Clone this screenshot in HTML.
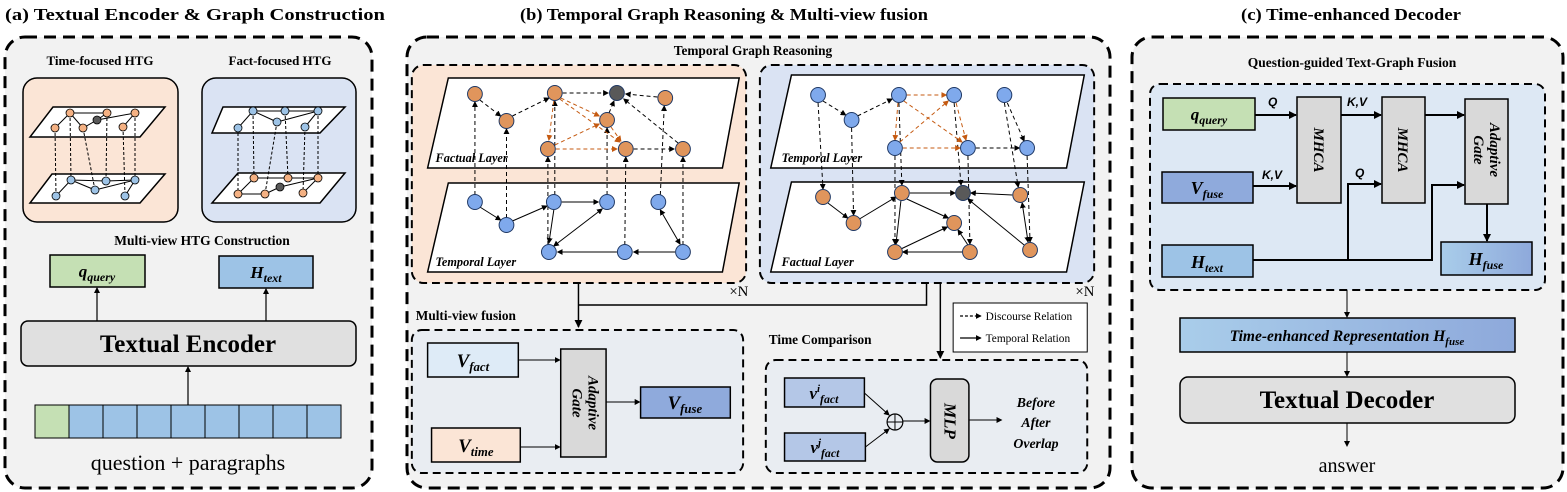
<!DOCTYPE html>
<html><head><meta charset="utf-8"><style>
html,body{margin:0;padding:0;background:#fff;}
svg{display:block;font-family:"Liberation Serif",serif;}
.b{font-weight:bold}
.bi{font-weight:bold;font-style:italic}
</style></head><body>
<svg width="1567" height="492" viewBox="0 0 1567 492" xmlns="http://www.w3.org/2000/svg">
<defs>
<marker id="ah" markerWidth="8" markerHeight="8" refX="7" refY="4" orient="auto" markerUnits="userSpaceOnUse"><path d="M0,0 L8,4 L0,8 z" fill="#000"/></marker>
<marker id="as" markerWidth="6" markerHeight="6" refX="5" refY="3" orient="auto" markerUnits="userSpaceOnUse"><path d="M0,0 L6,3 L0,6 z" fill="#000"/></marker>
<marker id="ao" markerWidth="6" markerHeight="6" refX="5" refY="3" orient="auto" markerUnits="userSpaceOnUse"><path d="M0,0 L6,3 L0,6 z" fill="#c55a11"/></marker>
<marker id="asb" markerWidth="6" markerHeight="6" refX="1" refY="3" orient="auto" markerUnits="userSpaceOnUse"><path d="M6,0 L0,3 L6,6 z" fill="#000"/></marker>
<linearGradient id="gh" x1="0" x2="1"><stop offset="0" stop-color="#a9cdea"/><stop offset="1" stop-color="#8ea9db"/></linearGradient>
</defs>

<!-- Titles -->
<text x="5" y="20" class="b" font-size="17" textLength="380" lengthAdjust="spacingAndGlyphs">(a) Textual Encoder &amp; Graph Construction</text>
<text x="520" y="20" class="b" font-size="17" textLength="408" lengthAdjust="spacingAndGlyphs">(b) Temporal Graph Reasoning &amp;  Multi-view fusion</text>
<text x="1241" y="20" class="b" font-size="17" textLength="220" lengthAdjust="spacingAndGlyphs">(c) Time-enhanced Decoder</text>

<!-- Panel A -->
<rect x="5" y="37" width="367" height="451" rx="20" fill="#f2f2f2" stroke="#000" stroke-width="3" stroke-dasharray="12,7"/>
<text x="100" y="65" class="b" font-size="13" text-anchor="middle">Time-focused HTG</text>
<text x="280" y="65" class="b" font-size="13" text-anchor="middle">Fact-focused HTG</text>
<rect x="23" y="78" width="155" height="144" rx="14" fill="#fbe5d6" stroke="#000" stroke-width="1.5"/>
<rect x="202" y="78" width="154" height="144" rx="14" fill="#dae3f3" stroke="#000" stroke-width="1.5"/>
<g stroke="#000" stroke-width="1.5" fill="#fff">
<polygon points="53,107 165,107 140,137 30,137"/>
<polygon points="52,174 165,174 140,203 30,203"/>
<polygon points="223,107 345,107 320,133 212,133"/>
<polygon points="238,173 345,173 320,203 212,203"/>
</g>
<g stroke="#000" stroke-width="1" stroke-dasharray="3,2">
<line x1="55" y1="128" x2="56" y2="196"/><line x1="70" y1="113" x2="71" y2="180"/><line x1="83" y1="128" x2="95" y2="190"/><line x1="107" y1="113" x2="106" y2="181"/><line x1="123" y1="127" x2="125" y2="196"/><line x1="135" y1="113" x2="135" y2="180"/>
<line x1="238" y1="128" x2="238" y2="194"/><line x1="253" y1="111" x2="254" y2="178"/><line x1="277" y1="122" x2="265" y2="194"/><line x1="285" y1="111" x2="288" y2="178"/><line x1="305" y1="127" x2="303" y2="193"/><line x1="318" y1="111" x2="318" y2="178"/>
</g>
<g stroke="#000" stroke-width="1" fill="none">
<polyline points="55,128 70,113 83,128 97,120 135,113 123,127"/><line x1="70" y1="113" x2="107" y2="113"/><line x1="97" y1="120" x2="107" y2="113"/>
<polyline points="56,196 71,180 106,181 135,180 125,196"/><line x1="71" y1="180" x2="95" y2="190"/><line x1="95" y1="190" x2="135" y2="180"/>
<polyline points="238,128 253,111 285,111 318,111"/><line x1="253" y1="111" x2="277" y2="122"/><line x1="277" y1="122" x2="318" y2="111"/><line x1="305" y1="127" x2="318" y2="111"/>
<polyline points="238,194 254,178 288,178 318,178 303,193"/><line x1="238" y1="194" x2="265" y2="194"/><line x1="265" y1="194" x2="280" y2="187"/><line x1="280" y1="187" x2="318" y2="178"/>
</g>
<g stroke="#000" stroke-width="0.8">
<g fill="#f4b183"><circle cx="70" cy="113" r="4"/><circle cx="107" cy="113" r="4"/><circle cx="135" cy="113" r="4"/><circle cx="55" cy="128" r="4"/><circle cx="83" cy="128" r="4"/><circle cx="123" cy="127" r="4"/>
<circle cx="254" cy="178" r="4"/><circle cx="288" cy="178" r="4"/><circle cx="318" cy="178" r="4"/><circle cx="238" cy="194" r="4"/><circle cx="265" cy="194" r="4"/><circle cx="303" cy="193" r="4"/></g>
<g fill="#9dc3e6"><circle cx="71" cy="180" r="4"/><circle cx="106" cy="181" r="4"/><circle cx="135" cy="180" r="4"/><circle cx="95" cy="190" r="4"/><circle cx="56" cy="196" r="4"/><circle cx="125" cy="196" r="4"/>
<circle cx="253" cy="111" r="4"/><circle cx="285" cy="111" r="4"/><circle cx="318" cy="111" r="4"/><circle cx="277" cy="122" r="4"/><circle cx="238" cy="128" r="4"/><circle cx="305" cy="127" r="4"/></g>
<g fill="#595959"><circle cx="97" cy="120" r="4"/><circle cx="280" cy="187" r="4"/></g>
</g>
<text x="202" y="245" class="b" font-size="13.5" text-anchor="middle">Multi-view HTG Construction</text>
<rect x="50" y="255" width="95" height="32" fill="#c5e0b4" stroke="#000" stroke-width="1.5"/>
<text x="97" y="277" class="bi" font-size="17" text-anchor="middle">q<tspan font-size="12" dy="4">query</tspan></text>
<rect x="219" y="256" width="94" height="32" fill="#9dc3e6" stroke="#000" stroke-width="1.5"/>
<text x="266" y="278" class="bi" font-size="17" text-anchor="middle">H<tspan font-size="12" dy="4">text</tspan></text>
<line x1="97" y1="321" x2="97" y2="288" stroke="#000" stroke-width="1.2" marker-end="url(#as)"/>
<line x1="266" y1="321" x2="266" y2="289" stroke="#000" stroke-width="1.2" marker-end="url(#as)"/>
<rect x="21" y="321" width="335" height="45" rx="7" fill="#e0e0e0" stroke="#000" stroke-width="1.5"/>
<text x="188" y="352" class="b" font-size="25" text-anchor="middle">Textual Encoder</text>
<line x1="188" y1="405" x2="188" y2="367" stroke="#000" stroke-width="1.2" marker-end="url(#as)"/>
<g stroke="#000" stroke-width="1">
<rect x="35" y="405" width="34" height="33" fill="#c5e0b4"/>
<rect x="69" y="405" width="34" height="33" fill="#9dc3e6"/><rect x="103" y="405" width="34" height="33" fill="#9dc3e6"/><rect x="137" y="405" width="34" height="33" fill="#9dc3e6"/><rect x="171" y="405" width="34" height="33" fill="#9dc3e6"/><rect x="205" y="405" width="34" height="33" fill="#9dc3e6"/><rect x="239" y="405" width="34" height="33" fill="#9dc3e6"/><rect x="273" y="405" width="34" height="33" fill="#9dc3e6"/><rect x="307" y="405" width="34" height="33" fill="#9dc3e6"/>
</g>
<text x="188" y="470" font-size="22" text-anchor="middle">question  + paragraphs</text>

<!-- Panel B -->
<rect x="407" y="37" width="703" height="451" rx="20" fill="#f2f2f2" stroke="#000" stroke-width="3" stroke-dasharray="12,7"/>
<g transform="matrix(0.986 0 0 1 5.6 0)">
<text x="758" y="55" class="b" font-size="13.5" text-anchor="middle">Temporal Graph Reasoning</text>
<rect x="412" y="65" width="339" height="218" rx="12" fill="#fbe5d6" stroke="#000" stroke-width="2" stroke-dasharray="8,5"/>
<rect x="765" y="65" width="339" height="218" rx="12" fill="#dae3f3" stroke="#000" stroke-width="2" stroke-dasharray="8,5"/>
<g stroke="#000" stroke-width="1.5" fill="#fff">
<polygon points="449,78 744,78 727,168 428,168"/>
<polygon points="449,183 744,183 727,272 428,272"/>
<polygon points="797,75 1094,75 1076,168 776,168"/>
<polygon points="797,182 1094,182 1076,272 776,272"/>
</g>
<g class="bi" font-size="12.5">
<text x="436" y="162">Factual Layer</text><text x="436" y="266">Temporal Layer</text>
<text x="787" y="162">Temporal Layer</text><text x="787" y="266">Factual Layer</text>
</g>
<g stroke="#000" stroke-width="1" stroke-dasharray="4,3" marker-end="url(#as)">
<line x1="476" y1="195" x2="476" y2="102"/><line x1="508" y1="218" x2="508" y2="129"/><line x1="550" y1="245" x2="550" y2="157"/><line x1="557" y1="195" x2="557" y2="101"/><line x1="610" y1="195" x2="610" y2="128"/><line x1="628" y1="245" x2="629" y2="157"/><line x1="664" y1="195" x2="668" y2="106"/><line x1="687" y1="245" x2="687" y2="157"/>
</g>
<g stroke="#000" stroke-width="1" stroke-dasharray="4,3" marker-end="url(#as)">
<line x1="481" y1="100" x2="502" y2="116"/><line x1="514" y1="116" x2="551" y2="98"/><line x1="565" y1="93" x2="611" y2="93"/><line x1="661" y1="97" x2="629" y2="94"/><line x1="612" y1="113" x2="617" y2="101"/><line x1="682" y1="143" x2="627" y2="99"/><line x1="637" y1="149" x2="678" y2="149"/>
</g>
<g stroke="#c55a11" stroke-width="1" stroke-dasharray="4,3" marker-end="url(#ao)">
<line x1="556" y1="101" x2="551" y2="140"/><line x1="563" y1="98" x2="602" y2="116"/><line x1="562" y1="99" x2="623" y2="142"/><line x1="557" y1="145" x2="602" y2="124"/><line x1="558" y1="149" x2="620" y2="149"/><line x1="614" y1="127" x2="624" y2="141"/>
</g>
<g stroke="#000" stroke-width="1" marker-end="url(#as)">
<line x1="481" y1="207" x2="502" y2="220"/><line x1="514" y1="221" x2="549" y2="206"/><line x1="564" y1="202" x2="601" y2="202"/><line x1="556" y1="210" x2="551" y2="243"/><line x1="620" y1="252" x2="560" y2="252"/><line x1="679" y1="252" x2="637" y2="252"/>
<line x1="556" y1="246" x2="605" y2="209" marker-start="url(#asb)"/><line x1="664" y1="210" x2="684" y2="244" marker-start="url(#asb)"/>
</g>
<g stroke="#000" stroke-width="1" stroke-dasharray="4,3" marker-end="url(#as)">
<line x1="824" y1="103" x2="829" y2="189"/><line x1="858" y1="128" x2="860" y2="215"/><line x1="902" y1="156" x2="902" y2="244"/><line x1="906" y1="103" x2="909" y2="185"/><line x1="962" y1="103" x2="969" y2="185"/><line x1="976" y1="156" x2="978" y2="244"/><line x1="1013" y1="103" x2="1027" y2="187"/><line x1="1036" y1="156" x2="1039" y2="242"/>
</g>
<g stroke="#000" stroke-width="1" stroke-dasharray="4,3" marker-end="url(#as)">
<line x1="829" y1="101" x2="852" y2="115"/><line x1="864" y1="116" x2="899" y2="99"/><line x1="984" y1="148" x2="1028" y2="148"/><line x1="1016" y1="103" x2="1033" y2="141"/>
</g>
<g stroke="#c55a11" stroke-width="1" stroke-dasharray="4,3" marker-end="url(#ao)">
<line x1="914" y1="95" x2="954" y2="95"/><line x1="905" y1="103" x2="902" y2="140"/><line x1="911" y1="101" x2="970" y2="142"/><line x1="907" y1="142" x2="956" y2="101"/><line x1="910" y1="148" x2="968" y2="148"/><line x1="964" y1="103" x2="974" y2="140"/>
</g>
<g stroke="#000" stroke-width="1" marker-end="url(#as)">
<line x1="834" y1="203" x2="854" y2="218"/><line x1="866" y1="219" x2="903" y2="197"/><line x1="917" y1="193" x2="963" y2="193"/><line x1="1021" y1="195" x2="979" y2="193"/><line x1="908" y1="201" x2="903" y2="244"/><line x1="914" y1="199" x2="956" y2="218"/><line x1="908" y1="249" x2="955" y2="227"/><line x1="970" y1="252" x2="910" y2="252"/><line x1="976" y1="245" x2="966" y2="230"/><line x1="1033" y1="245" x2="976" y2="199"/>
<line x1="1031" y1="203" x2="1037" y2="242" marker-start="url(#asb)"/>
</g>
<g stroke="#1f3864" stroke-width="1">
<g fill="#e0955c">
<circle cx="476" cy="94" r="7.5"/><circle cx="508" cy="121" r="7.5"/><circle cx="557" cy="93" r="7.5"/><circle cx="669" cy="98" r="7.5"/><circle cx="610" cy="120" r="7.5"/><circle cx="550" cy="149" r="7.5"/><circle cx="629" cy="149" r="7.5"/><circle cx="687" cy="149" r="7.5"/>
<circle cx="829" cy="197" r="7.5"/><circle cx="860" cy="223" r="7.5"/><circle cx="909" cy="193" r="7.5"/><circle cx="1029" cy="195" r="7.5"/><circle cx="962" cy="223" r="7.5"/><circle cx="902" cy="252" r="7.5"/><circle cx="978" cy="252" r="7.5"/><circle cx="1039" cy="250" r="7.5"/>
</g>
<g fill="#7fa9ec">
<circle cx="476" cy="202" r="7.5"/><circle cx="508" cy="225" r="7.5"/><circle cx="556" cy="202" r="7.5"/><circle cx="610" cy="202" r="7.5"/><circle cx="662" cy="202" r="7.5"/><circle cx="551" cy="252" r="7.5"/><circle cx="628" cy="252" r="7.5"/><circle cx="687" cy="252" r="7.5"/>
<circle cx="824" cy="95" r="7.5"/><circle cx="858" cy="120" r="7.5"/><circle cx="906" cy="95" r="7.5"/><circle cx="962" cy="95" r="7.5"/><circle cx="1013" cy="95" r="7.5"/><circle cx="902" cy="148" r="7.5"/><circle cx="976" cy="148" r="7.5"/><circle cx="1036" cy="148" r="7.5"/>
</g>
<g fill="#595959"><circle cx="620" cy="93" r="7.5"/><circle cx="971" cy="193" r="7.5"/></g>
</g>
<text x="734" y="296" font-size="15">×N</text>
<text x="1085" y="296" font-size="15">×N</text>
<g stroke="#000" stroke-width="1.5" fill="none">
<line x1="581" y1="283" x2="581" y2="327" marker-end="url(#ah)"/>
<polyline points="581,305 934,305 934,283"/>
<line x1="948" y1="283" x2="948" y2="358" marker-end="url(#ah)"/>
</g>
<text x="416" y="320" class="b" font-size="13.5">Multi-view fusion</text>
<rect x="412" y="330" width="336" height="143" rx="10" fill="#e9edf2" stroke="#000" stroke-width="2" stroke-dasharray="8,5"/>
<rect x="428" y="343" width="92" height="34" fill="#deebf7" stroke="#000" stroke-width="1.5"/>
<text x="474" y="367" class="bi" font-size="19" text-anchor="middle">V<tspan font-size="13" dy="4">fact</tspan></text>
<rect x="432" y="428" width="90" height="34" fill="#fbe5d6" stroke="#000" stroke-width="1.5"/>
<text x="477" y="452" class="bi" font-size="19" text-anchor="middle">V<tspan font-size="13" dy="4">time</tspan></text>
<rect x="563" y="349" width="46" height="108" fill="#d9d9d9" stroke="#000" stroke-width="1.5"/>
<text transform="translate(586,403) rotate(90)" class="bi" font-size="15" text-anchor="middle"><tspan x="0" dy="-5">Adaptive</tspan><tspan x="0" dy="16">Gate</tspan></text>
<rect x="644" y="387" width="91" height="31" fill="#8faadc" stroke="#000" stroke-width="1.5"/>
<text x="689" y="409" class="bi" font-size="19" text-anchor="middle">V<tspan font-size="13" dy="4">fuse</tspan></text>
<g stroke="#000" stroke-width="1" marker-end="url(#as)">
<line x1="520" y1="360" x2="562" y2="360"/><line x1="522" y1="447" x2="562" y2="447"/><line x1="609" y1="402" x2="643" y2="402"/>
</g>
<text x="774" y="344" class="b" font-size="13.5">Time Comparison</text>
<rect x="771" y="360" width="326" height="113" rx="10" fill="#e9edf2" stroke="#000" stroke-width="2" stroke-dasharray="8,5"/>
<rect x="961" y="303" width="136" height="49" fill="#fff" stroke="#000" stroke-width="1"/>
<line x1="968" y1="316" x2="989" y2="316" stroke="#000" stroke-width="1.2" stroke-dasharray="3,2" marker-end="url(#as)"/>
<line x1="968" y1="338" x2="989" y2="338" stroke="#000" stroke-width="1.2" marker-end="url(#as)"/>
<text x="994" y="320" font-size="11.5">Discourse Relation</text>
<text x="994" y="342" font-size="11.5">Temporal Relation</text>
<rect x="790" y="378" width="81" height="29" fill="#b4c7e7" stroke="#000" stroke-width="1.5"/>
<text x="830" y="399" class="bi" font-size="17" text-anchor="middle">v<tspan font-size="11" dy="-7">i</tspan><tspan font-size="12" dy="11">fact</tspan></text>
<rect x="790" y="433" width="82" height="28" fill="#b4c7e7" stroke="#000" stroke-width="1.5"/>
<text x="831" y="453" class="bi" font-size="17" text-anchor="middle">v<tspan font-size="11" dy="-7">j</tspan><tspan font-size="12" dy="11">fact</tspan></text>
<circle cx="902" cy="422" r="8" fill="none" stroke="#000" stroke-width="1.2"/>
<line x1="894" y1="422" x2="910" y2="422" stroke="#000"/><line x1="902" y1="414" x2="902" y2="430" stroke="#000"/>
<g stroke="#000" stroke-width="1" marker-end="url(#as)">
<line x1="871" y1="393" x2="896" y2="415"/><line x1="872" y1="447" x2="896" y2="429"/><line x1="910" y1="421" x2="937" y2="421"/><line x1="977" y1="420" x2="1010" y2="420"/>
</g>
<rect x="938" y="379" width="39" height="83" rx="7" fill="#d9d9d9" stroke="#000" stroke-width="1.5"/>
<text transform="translate(958,421) rotate(90)" class="bi" font-size="17" text-anchor="middle" dy="6">MLP</text>
<text class="bi" font-size="14" text-anchor="middle"><tspan x="1045" y="407">Before</tspan><tspan x="1045" y="427">After</tspan><tspan x="1045" y="448">Overlap</tspan></text>
</g>

<!-- Panel C -->
<rect x="1132" y="37" width="431" height="451" rx="20" fill="#f2f2f2" stroke="#000" stroke-width="3" stroke-dasharray="12,7"/>
<text x="1352" y="67" class="b" font-size="13.5" text-anchor="middle">Question-guided Text-Graph Fusion</text>
<rect x="1150" y="84" width="395" height="206" rx="10" fill="#dde8f4" stroke="#000" stroke-width="2" stroke-dasharray="8,5"/>
<rect x="1163" y="98" width="92" height="32" fill="#c5e0b4" stroke="#000" stroke-width="1.5"/>
<text x="1209" y="120" class="bi" font-size="17" text-anchor="middle">q<tspan font-size="12" dy="4">query</tspan></text>
<rect x="1162" y="172" width="91" height="31" fill="#8faadc" stroke="#000" stroke-width="1.5"/>
<text x="1207" y="194" class="bi" font-size="18" text-anchor="middle">V<tspan font-size="12" dy="4">fuse</tspan></text>
<rect x="1162" y="245" width="91" height="32" fill="#9dc3e6" stroke="#000" stroke-width="1.5"/>
<text x="1207" y="268" class="bi" font-size="18" text-anchor="middle">H<tspan font-size="12" dy="4">text</tspan></text>
<rect x="1297" y="97" width="44" height="106" fill="#d9d9d9" stroke="#000" stroke-width="1.5"/>
<rect x="1382" y="97" width="43" height="106" fill="#d9d9d9" stroke="#000" stroke-width="1.5"/>
<rect x="1465" y="99" width="43" height="105" fill="#d9d9d9" stroke="#000" stroke-width="1.5"/>
<text transform="translate(1319,150) rotate(90)" class="bi" font-size="15" text-anchor="middle" dy="5">MHCA</text>
<text transform="translate(1403,150) rotate(90)" class="bi" font-size="15" text-anchor="middle" dy="5">MHCA</text>
<text transform="translate(1486,150) rotate(90)" class="bi" font-size="15" text-anchor="middle"><tspan x="0" dy="-4">Adaptive</tspan><tspan x="0" dy="16">Gate</tspan></text>
<rect x="1441" y="242" width="91" height="33" fill="url(#gh)" stroke="#000" stroke-width="1.5"/>
<text x="1486" y="265" class="bi" font-size="18" text-anchor="middle">H<tspan font-size="12" dy="4">fuse</tspan></text>
<g stroke="#000" stroke-width="2" fill="none" marker-end="url(#ah)">
<line x1="1255" y1="115" x2="1296" y2="115"/><line x1="1253" y1="186" x2="1296" y2="186"/>
<line x1="1341" y1="115" x2="1381" y2="115"/><line x1="1425" y1="115" x2="1464" y2="115"/>
<polyline points="1253,260 1348,260 1348,184 1381,184"/><polyline points="1348,260 1432,260 1432,185 1464,185"/>
<line x1="1487" y1="204" x2="1487" y2="241"/>
</g>
<g class="bi" font-size="12" font-family="Liberation Sans, sans-serif">
<text x="1268" y="106">Q</text><text x="1262" y="179">K,V</text><text x="1347" y="106">K,V</text><text x="1355" y="177">Q</text>
</g>
<g stroke="#000" stroke-width="1" marker-end="url(#as)">
<line x1="1347" y1="290" x2="1347" y2="317"/><line x1="1347" y1="352" x2="1347" y2="376"/><line x1="1347" y1="423" x2="1347" y2="446"/>
</g>
<rect x="1180" y="318" width="335" height="34" fill="url(#gh)" stroke="#000" stroke-width="1.5"/>
<text x="1347" y="341" class="bi" font-size="15.5" text-anchor="middle">Time-enhanced Representation  H<tspan font-size="11" dy="4">fuse</tspan></text>
<rect x="1180" y="377" width="335" height="46" rx="8" fill="#e0e0e0" stroke="#000" stroke-width="1.5"/>
<text x="1347" y="408" class="b" font-size="25" text-anchor="middle">Textual Decoder</text>
<text x="1347" y="472" font-size="20" text-anchor="middle">answer</text>
</svg>
</body></html>
